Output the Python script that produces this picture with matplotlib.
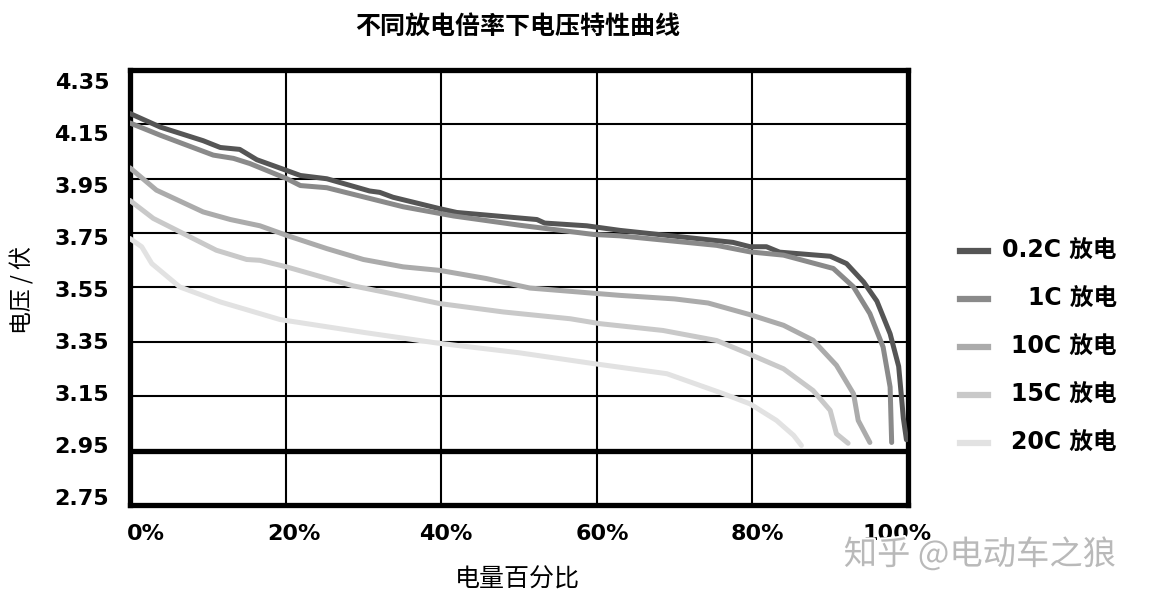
import matplotlib
matplotlib.use("Agg")
import matplotlib.pyplot as plt
import matplotlib.transforms as mtransforms
import matplotlib.patheffects as pe
from matplotlib.lines import Line2D

W, H = 1149, 602

# 放电曲线数据 (电量百分比 %, 电压 V)
x_02c = [0, 3.9, 9.4, 11.6, 14.1, 16.3, 19.7, 21.9, 25.3, 30.8, 32.1, 33.8, 39.8, 42, 52.3, 53.3,
         58.7, 63, 77.5, 79.7, 81.8, 83.5, 90, 92.1, 94.3, 96, 97.7, 98.8, 99.2, 99.4, 99.8]
v_02c = [4.19, 4.14, 4.09, 4.065, 4.058, 4.02, 3.985, 3.962, 3.95, 3.905, 3.90, 3.882, 3.84, 3.826, 3.80, 3.787,
         3.777, 3.76, 3.716, 3.70, 3.70, 3.68, 3.665, 3.638, 3.57, 3.50, 3.38, 3.26, 3.135, 3.07, 2.99]

x_1c = [0, 3.9, 10.7, 13.3, 15.4, 20.1, 21.9, 25.3, 35.1, 41.6, 50.1, 59.6, 63, 75.4, 79.7, 84,
        90.4, 93, 95.1, 96.8, 97.7, 97.9]
v_1c = [4.155, 4.11, 4.037, 4.025, 4.006, 3.951, 3.925, 3.917, 3.847, 3.813, 3.779, 3.745, 3.74, 3.705, 3.681, 3.669,
        3.62, 3.552, 3.454, 3.331, 3.184, 2.98]

x_10c = [0, 3.4, 9.4, 12.9, 16.7, 20.1, 25.3, 30, 35.1, 39.8, 45.8, 51.4, 58.7, 63, 70, 74.3, 79.7,
         84, 87.8, 90.8, 93, 93.6, 95.1]
v_10c = [3.99, 3.908, 3.828, 3.80, 3.777, 3.742, 3.693, 3.653, 3.626, 3.613, 3.583, 3.548, 3.531, 3.521, 3.508, 3.493, 3.45,
         3.411, 3.356, 3.264, 3.159, 3.061, 2.98]

x_15c = [0, 3, 7.3, 11.1, 15, 16.7, 20.1, 28.7, 35.1, 39.8, 48, 56.6, 60.4, 68.5, 75.4, 79.7,
         84, 87.8, 90, 90.8, 92.3]
v_15c = [3.87, 3.804, 3.742, 3.687, 3.653, 3.65, 3.626, 3.556, 3.519, 3.491, 3.46, 3.435, 3.417, 3.392, 3.355, 3.304,
         3.251, 3.171, 3.098, 3.012, 2.977]

x_20c = [0, 1.5, 2.8, 6.4, 11.6, 19.3, 30, 39.4, 50, 59.6, 69, 76.3, 79.7, 83.1, 85.3, 86.3]
v_20c = [3.73, 3.70, 3.638, 3.552, 3.497, 3.432, 3.385, 3.346, 3.31, 3.27, 3.233, 3.159, 3.122, 3.061, 3.006, 2.969]

labels = ["0.2C 放电", "1C 放电", "10C 放电", "15C 放电", "20C 放电"]
colors = ["#555555", "#8a8a8a", "#ababab", "#c9c9c9", "#e2e2e2"]

y_ticks = [2.75, 2.95, 3.15, 3.35, 3.55, 3.75, 3.95, 4.15, 4.35]
x_ticks = [0, 20, 40, 60, 80, 100]
x_ticklabels = ["0%", "20%", "40%", "60%", "80%", "100%"]

latin = ["DejaVu Sans", "Noto Sans CJK SC"]
cjk = ["Noto Sans CJK SC", "DejaVu Sans"]

fig = plt.figure(figsize=(W / 100, H / 100), dpi=100)
ax = fig.add_axes([130 / W, (H - 505) / H, 778 / W, 435 / H])

series = [(x_02c, v_02c), (x_1c, v_1c), (x_10c, v_10c), (x_15c, v_15c), (x_20c, v_20c)]
for (xs, vs), c in zip(series, colors):
    ax.plot(xs, vs, color=c, lw=3.6, solid_capstyle="round", solid_joinstyle="round", zorder=3)

ax.set_xlim(0, 100)
ax.set_ylim(2.75, 4.35)
ax.set_xticks(x_ticks)
ax.set_yticks(y_ticks)
ax.set_xticklabels(x_ticklabels)
ax.set_yticklabels([f"{t:.2f}" for t in y_ticks])
ax.grid(True, color="black", lw=1.5, zorder=1)
ax.set_axisbelow(True)
ax.axhline(2.95, color="black", lw=3.8, zorder=2)
ax.tick_params(length=0, labelsize=16)
ax.tick_params(axis="y", pad=15)
ax.tick_params(axis="x", pad=14)
for sp in ax.spines.values():
    sp.set_linewidth(3.8)

# y 轴刻度文字略微错位(参照原图)
n = len(y_ticks)
for i, lbl in enumerate(ax.get_yticklabels()):
    lbl.set_fontfamily(latin)
    lbl.set_fontweight("bold")
    k = n - 1 - i
    dy = 11 - 19 * k / (n - 1)
    lbl.set_transform(lbl.get_transform() + mtransforms.ScaledTranslation(0, -dy / 100, fig.dpi_scale_trans))

x_off = [-3, 8, 5, 6, 5, -11]
for i, lbl in enumerate(ax.get_xticklabels()):
    lbl.set_fontfamily(latin)
    lbl.set_fontweight("bold")
    if i == 0:
        lbl.set_horizontalalignment("left")
    lbl.set_transform(lbl.get_transform() + mtransforms.ScaledTranslation(x_off[i] / 100, 0, fig.dpi_scale_trans))

fig.text(518 / W, 1 - 27 / H, "不同放电倍率下电压特性曲线", ha="center", va="center",
         fontsize=18, fontweight="bold", family=cjk)
fig.text(517 / W, 1 - 580 / H, "电量百分比", ha="center", va="center", fontsize=18, family=cjk)
fig.text(22 / W, 1 - 290 / H, "电压 / 伏", ha="center", va="center", rotation=90, fontsize=16.5, family=cjk)

# 图例
for i, (lab, c) in enumerate(zip(labels, colors)):
    yy = 1 - (251 + 48 * i) / H
    fig.add_artist(Line2D([960 / W, 988 / W], [yy, yy], transform=fig.transFigure, color=c, lw=4.5))
    fig.text(1117 / W, yy, lab, ha="right", va="center", fontsize=17, fontweight="bold", family=latin)

# 水印
fig.text(980 / W, 1 - 555 / H, "知乎 @电动车之狼", ha="center", va="center", fontsize=24,
         color="#b9b9b9", family=cjk, zorder=10,
         path_effects=[pe.withStroke(linewidth=3, foreground="white")])

fig.savefig("out.png", dpi=100)
